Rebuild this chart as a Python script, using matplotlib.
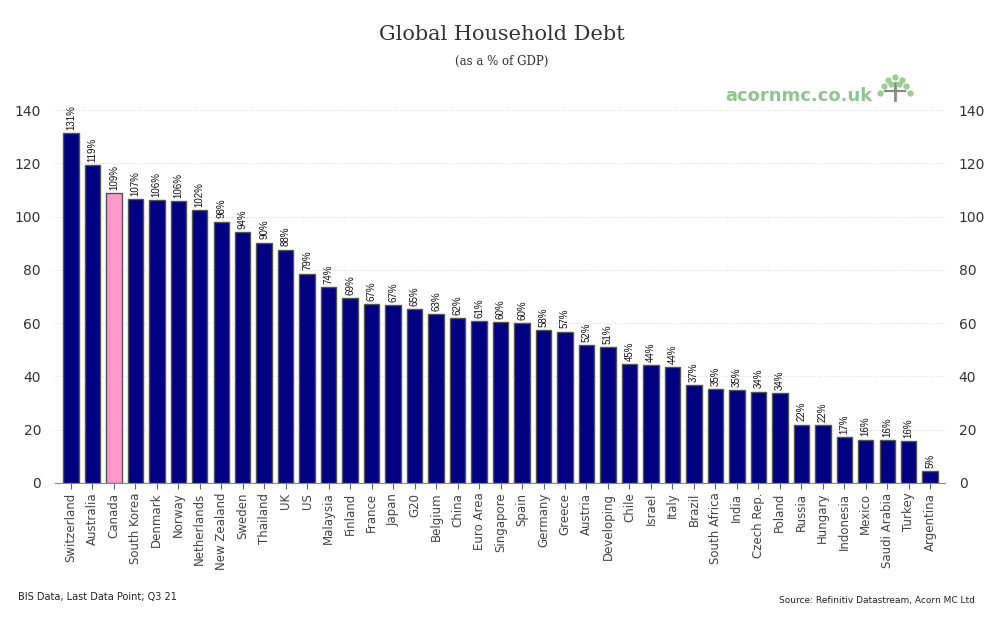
import matplotlib
matplotlib.use("Agg")
import matplotlib.pyplot as plt

countries = ["Switzerland", "Australia", "Canada", "South Korea", "Denmark", "Norway",
             "Netherlands", "New Zealand", "Sweden", "Thailand", "UK", "US", "Malaysia",
             "Finland", "France", "Japan", "G20", "Belgium", "China", "Euro Area",
             "Singapore", "Spain", "Germany", "Greece", "Austria", "Developing", "Chile",
             "Israel", "Italy", "Brazil", "South Africa", "India", "Czech Rep.", "Poland",
             "Russia", "Hungary", "Indonesia", "Mexico", "Saudi Arabia", "Turkey", "Argentina"]
debt_pct = [131.2, 119.4, 108.8, 106.7, 106.2, 105.9, 102.3, 98.1, 94.3, 90.2, 87.6,
            78.6, 73.6, 69.3, 67.2, 66.8, 65.2, 63.3, 61.8, 60.9, 60.4, 60.1, 57.5,
            56.8, 51.9, 51.1, 44.6, 44.3, 43.6, 36.6, 35.1, 34.9, 34.3, 33.7, 21.9,
            21.6, 17.2, 16.3, 16.0, 15.6, 4.6]
highlight = "Canada"
y_ticks = [0, 20, 40, 60, 80, 100, 120, 140]

fig = plt.figure(figsize=(10.03, 6.25), dpi=100)
ax = fig.add_axes([0.0548, 0.2272, 0.8872, 0.5968])

colors = ["#ff99cc" if c == highlight else "#000080" for c in countries]
x = range(len(countries))
ax.bar(x, debt_pct, width=0.72, color=colors, edgecolor="#555555", linewidth=1.0, zorder=3)

# value labels above each bar
for i, v in enumerate(debt_pct):
    ax.text(i, v + 1.2, f"{v:.0f}%", rotation=90, ha="center", va="bottom",
            fontsize=7, color="#111111", family="Liberation Sans",
            clip_on=False, zorder=4)

ax.set_xlim(-0.74, len(countries) - 0.32)
ax.set_ylim(0, 140)
ax.set_yticks(y_ticks)
ax.set_xticks(list(x))
ax.set_xticklabels(countries, rotation=90, fontsize=8.5, color="#444444")
ax.tick_params(axis="y", which="both", length=0, labelsize=10, labelcolor="#333333",
               labelleft=True, labelright=True, pad=10)
ax.tick_params(axis="x", length=4, color="#666666", pad=3)
ax.grid(axis="y", color="#dddddd", linestyle=":", linewidth=0.8, zorder=0)
for s in ["top", "left", "right"]:
    ax.spines[s].set_visible(False)
ax.spines["bottom"].set_color("#888888")

fig.text(0.5, 0.944, "Global Household Debt", ha="center", va="center",
         fontsize=15, family="DejaVu Serif", color="#333333")
fig.text(0.5, 0.901, "(as a % of GDP)", ha="center", va="center",
         fontsize=8.5, family="DejaVu Serif", color="#333333")
fig.text(0.870, 0.847, "acornmc.co.uk", ha="right", va="center",
         fontsize=13, fontweight="bold", color="#8ec68e", family="DejaVu Sans")

# small tree icon next to the logo text
tx, ty = 0.892, 0.858
fig.add_artist(plt.Line2D([tx, tx], [ty - 0.018, ty + 0.010], color="#888888", lw=2.0))
fig.add_artist(plt.Line2D([tx - 0.010, tx + 0.010], [ty - 0.004, ty - 0.004], color="#888888", lw=1.6))
leaf_pts = [(-0.011, 0.004), (-0.007, 0.014), (0.0, 0.019), (0.007, 0.014), (0.011, 0.004),
            (-0.015, -0.006), (0.015, -0.006), (-0.004, 0.008), (0.004, 0.008)]
for dx, dy in leaf_pts:
    fig.add_artist(plt.Line2D([tx + dx], [ty + dy], marker="o", markersize=3.5,
                              color="#9ccf94", lw=0))

fig.text(0.018, 0.045, "BIS Data, Last Data Point; Q3 21", ha="left", va="center",
         fontsize=7, color="#222222")
fig.text(0.972, 0.04, "Source: Refinitiv Datastream, Acorn MC Ltd", ha="right", va="center",
         fontsize=6.5, color="#222222")

fig.savefig("out.png", dpi=100)
